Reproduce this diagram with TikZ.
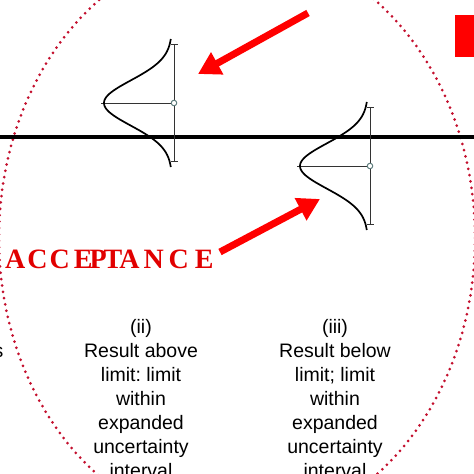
\documentclass[tikz,border=0pt]{standalone}
\usepackage{fontspec}
\setmainfont{Liberation Sans}
\newfontfamily\acceptfont{Liberation Serif}
\usetikzlibrary{positioning}
\usetikzlibrary{arrows.meta}
\definecolor{dotred}{RGB}{195,15,45}
\definecolor{arrowred}{RGB}{255,0,0}
\definecolor{textred}{RGB}{225,0,0}
\definecolor{meangray}{RGB}{95,125,125}
\frenchspacing

\begin{document}
\begin{tikzpicture}[x = 1pt, y = -1pt,
		bigarrow/.style = {arrowred, line width = 7pt, -{Triangle[length = 22pt, width = 24pt]}},
		caption/.style = {anchor = north, align = center, inner sep = 0pt, font = \fontsize{19.5}{24}\selectfont},
		meandot/.style = {circle, draw = meangray, fill = white, line width = 1pt, inner sep = 0pt, minimum size = 5.5pt}]
	\useasboundingbox (0, 0) rectangle (474, 474);
	\draw [dotred, line width = 3pt, line cap = round, dash pattern = on 0pt off 6.4pt] (237, 238) ellipse [x radius = 238, y radius = 292];
	\draw [black, line width = 4.5pt] (-5, 137) -- (480, 137);
	\fill [arrowred] (455, 15) rectangle (480, 57);
	\foreach \gx/\gy/\gn in {174/103/ii, 370/166/iii} {
		\coordinate (mean-\gn) at (\gx, \gy);
		\draw [black!80, line width = 1pt] (\gx, \gy - 58.5) -- (\gx, \gy + 58.5);
		\draw [black!80, line width = 1pt] (\gx - 3, \gy - 58.5) -- (\gx + 3.5, \gy - 58.5);
		\draw [black!80, line width = 1pt] (\gx - 3, \gy + 58.5) -- (\gx + 3.5, \gy + 58.5);
		\draw [black!80, line width = 1pt] (\gx - 73, \gy) -- (mean-\gn);
		\draw [black, line width = 1.7pt] plot [domain = -64:64, samples = 90, variable = \t] ({\gx - 2 - 68 * exp(-0.5 * (\t / 22.6) * (\t / 22.6))}, {\gy + \t});
		\node (dot-\gn) [meandot] at (mean-\gn) {};
	}
	\coordinate (tail-ii) at (308, 13);
	\coordinate (tip-ii) at (198, 74);
	\coordinate (tail-iii) at (220, 252);
	\coordinate (tip-iii) at (320, 199);
	\draw [bigarrow] (tail-ii) -- (tip-ii);
	\draw [bigarrow] (tail-iii) -- (tip-iii);
	\node (accept) at (5, 268) [anchor = base west, inner sep = 0pt, text = textred, font = \acceptfont\bfseries\fontsize{28}{30}\selectfont] {A\kern2pt C\kern2pt C\kern4pt E\kern-3pt P\kern-3pt T\kern-3pt A\kern4pt N\kern5pt C\kern6pt E};
	\node (case-ii) at (141, 319) [caption] {(ii)\\Result above\\limit: limit\\within\\expanded\\uncertainty\\interval};
	\node (case-iii) at (335, 319) [caption] {(iii)\\Result below\\limit; limit\\within\\expanded\\uncertainty\\interval};
	\node (cut-s) at (3.5, 357) [anchor = base east, inner sep = 0pt, font = \fontsize{19.5}{24}\selectfont] {s};
\end{tikzpicture}
\end{document}
